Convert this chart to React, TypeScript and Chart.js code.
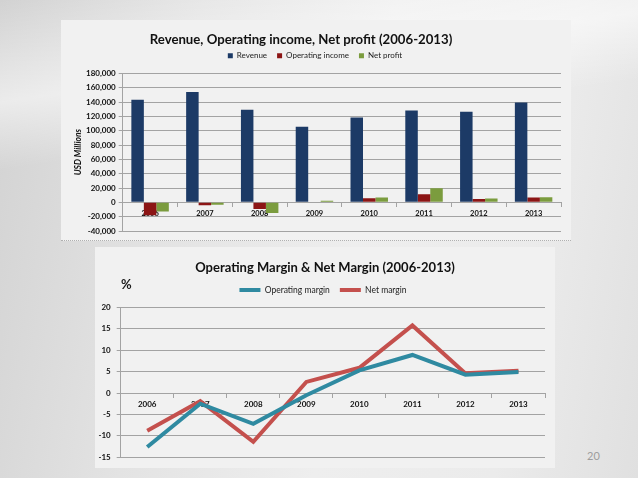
import React, { useEffect, useRef } from "react";
import { Chart, registerables } from "chart.js";

Chart.register(...registerables);

// ---------- data ----------
const years = ["2006", "2007", "2008", "2009", "2010", "2011", "2012", "2013"];
const revenue = [143200, 154000, 129100, 105600, 118300, 128200, 126300, 139400];
const operatingIncome = [-18000, -4200, -9400, -600, 5600, 11300, 4700, 6600];
const netProfit = [-12700, -3300, -15000, 2300, 6600, 19700, 5200, 7000];
const usdMin = -40000;
const usdMax = 180000;
const usdStep = 20000;

const operatingMargin = [-12.6, -2.5, -7.2, -0.5, 5.3, 8.9, 4.3, 4.9];
const netMargin = [-8.8, -1.9, -11.4, 2.6, 5.9, 15.8, 4.6, 5.2];
const pctMin = -15;
const pctMax = 20;
const pctStep = 5;

const barTitle = "Revenue, Operating income, Net profit (2006-2013)";
const lineTitle = "Operating Margin & Net Margin (2006-2013)";

// ---------- styles ----------
const FONT = 'Lato, "Noto Sans", "DejaVu Sans", sans-serif';
const GRID = "#a3a3a3";
const TEXT = "#111111";

// small plugin: extra legend height and horizontal offsets for title / legend
const boxTweak = {
  id: "boxTweak",
  beforeLayout(chart: any, _args: any, opts: any) {
    const lg = chart.legend;
    if (lg && !lg.__tweaked) {
      const fit = lg.fit.bind(lg);
      lg.fit = function () {
        fit();
        lg.height += opts.legendExtra || 0;
      };
      lg.__tweaked = true;
    }
  },
  afterLayout(chart: any, _args: any, opts: any) {
    const t = chart.titleBlock;
    if (t && opts.titleDx) {
      t.left += opts.titleDx;
      t.right += opts.titleDx;
    }
    const lg = chart.legend;
    if (lg && opts.legendDx) {
      lg.left += opts.legendDx;
      lg.right += opts.legendDx;
    }
  },
};

function BarChart() {
  const ref = useRef<HTMLCanvasElement>(null);
  useEffect(() => {
    const chart = new Chart(ref.current as HTMLCanvasElement, {
      type: "bar",
      data: {
        labels: years,
        datasets: [
          { label: "Revenue", data: revenue, backgroundColor: "#1c3a66" },
          { label: "Operating income", data: operatingIncome, backgroundColor: "#8c1515" },
          { label: "Net profit", data: netProfit, backgroundColor: "#7b9c3e" },
        ],
      },
      plugins: [boxTweak as any],
      options: {
        responsive: false,
        animation: false,
        datasets: { bar: { barPercentage: 1, categoryPercentage: 0.684, borderWidth: 0 } } as any,
        layout: { padding: { left: 0, right: 10, top: 0, bottom: 10 } },
        plugins: {
          boxTweak: { legendExtra: 3.5, titleDx: -10, legendDx: 4 } as any,
          title: {
            display: true,
            text: barTitle,
            color: TEXT,
            font: { family: FONT, size: 13.2, weight: "bold", lineHeight: 1.2 },
            padding: { top: 12.1, bottom: -6.1 },
          },
          legend: {
            display: true,
            position: "top",
            labels: {
              color: "#222",
              font: { family: FONT, size: 8 },
              boxWidth: 5,
              boxHeight: 5,
              padding: 10,
            },
          },
          tooltip: { enabled: false },
        },
        scales: {
          x: {
            type: "category",
            position: { y: 0 } as any,
            offset: true,
            grid: { offset: true, drawOnChartArea: false, drawTicks: true, tickLength: 4, color: GRID },
            border: { display: true, color: GRID },
            ticks: {
              color: TEXT,
              font: { family: FONT, size: 7.5, weight: "bold" },
              padding: 3,
              maxRotation: 0,
              autoSkip: false,
            },
          },
          y: {
            min: usdMin,
            max: usdMax,
            afterFit(scale: any) {
              scale.width = 61.7;
            },
            ticks: {
              stepSize: usdStep,
              color: TEXT,
              font: { family: FONT, size: 8, weight: "bold" },
              padding: 3,
            },
            grid: { color: GRID, tickLength: 4, drawTicks: true },
            border: { display: true, color: GRID },
            title: {
              display: true,
              text: "USD Millions",
              color: TEXT,
              font: { family: FONT, size: 8.5, weight: "bold", style: "italic" },
              padding: { top: 12, bottom: 0 },
            },
          },
        },
      },
    });
    return () => chart.destroy();
  }, []);
  return (
    <canvas
      ref={ref}
      width={510}
      height={221}
      style={{ position: "absolute", left: 61, top: 20, width: 510, height: 221 }}
    />
  );
}

function LineChart() {
  const ref = useRef<HTMLCanvasElement>(null);
  useEffect(() => {
    const chart = new Chart(ref.current as HTMLCanvasElement, {
      type: "line",
      data: {
        labels: years,
        datasets: [
          {
            label: "Operating margin",
            data: operatingMargin,
            borderColor: "#2f8aa1",
            backgroundColor: "#2f8aa1",
            borderWidth: 4,
            pointRadius: 0,
            tension: 0,
            fill: false,
          },
          {
            label: "Net margin",
            data: netMargin,
            borderColor: "#c4504d",
            backgroundColor: "#c4504d",
            borderWidth: 4,
            pointRadius: 0,
            tension: 0,
            fill: false,
          },
        ],
      },
      plugins: [boxTweak as any],
      options: {
        responsive: false,
        animation: false,
        layout: { padding: { left: 0, right: 10, top: 0, bottom: 9.3 } },
        plugins: {
          boxTweak: { legendExtra: 3.2, titleDx: 5, legendDx: 3 } as any,
          title: {
            display: true,
            text: lineTitle,
            color: TEXT,
            font: { family: FONT, size: 13, weight: "bold", lineHeight: 1.2 },
            padding: { top: 13.2, bottom: 0 },
          },
          legend: {
            display: true,
            position: "top",
            labels: {
              color: "#222",
              font: { family: FONT, size: 8.5 },
              usePointStyle: true,
              pointStyle: "line",
              pointStyleWidth: 21,
              padding: 10,
            } as any,
          },
          tooltip: { enabled: false },
        },
        scales: {
          x: {
            type: "category",
            position: { y: 0 } as any,
            offset: true,
            grid: { offset: true, drawOnChartArea: false, drawTicks: true, tickLength: 4, color: GRID },
            border: { display: true, color: GRID },
            ticks: {
              color: TEXT,
              font: { family: FONT, size: 8, weight: "bold" },
              padding: 3,
              maxRotation: 0,
              autoSkip: false,
            },
          },
          y: {
            min: pctMin,
            max: pctMax,
            afterFit(scale: any) {
              scale.width = 25.7;
            },
            ticks: {
              stepSize: pctStep,
              color: TEXT,
              font: { family: FONT, size: 8, weight: "bold" },
              padding: 6,
            },
            grid: { color: GRID, tickLength: 4, drawTicks: true },
            border: { display: true, color: GRID },
          },
        },
      },
    });
    return () => chart.destroy();
  }, []);
  return (
    <canvas
      ref={ref}
      width={460}
      height={221}
      style={{ position: "absolute", left: 95, top: 247, width: 460, height: 221 }}
    />
  );
}

export default function App() {
  return (
    <div
      style={{
        position: "fixed",
        left: 0,
        top: 0,
        width: 638,
        height: 478,
        overflow: "hidden",
        fontFamily: FONT,
        background:
          "linear-gradient(172deg, rgba(255,255,255,0) 0%, rgba(255,255,255,0.55) 18%, rgba(255,255,255,0) 30%), linear-gradient(100deg, #d2d2d2 0%, #e3e3e3 28%, #eeeeee 55%, #ebebeb 80%, #e0e0e0 100%)",
      }}
    >
      <div
        style={{
          position: "absolute",
          left: 61,
          top: 20,
          width: 510,
          height: 221,
          background: "#f1f1f1",
          borderBottom: "1px dotted #b0b0b0",
          boxSizing: "border-box",
        }}
      />
      <div
        style={{
          position: "absolute",
          left: 95,
          top: 247,
          width: 460,
          height: 221,
          background: "#f1f1f1",
        }}
      />
      <BarChart />
      <LineChart />
      <div
        style={{
          position: "absolute",
          left: 121,
          top: 276,
          fontSize: 13,
          fontWeight: "bold",
          color: "#1a1a1a",
          lineHeight: "16px",
        }}
      >
        %
      </div>
      <div
        style={{
          position: "absolute",
          left: 587,
          top: 449,
          fontSize: 11,
          color: "#9d9d9d",
          lineHeight: "14px",
        }}
      >
        20
      </div>
    </div>
  );
}
